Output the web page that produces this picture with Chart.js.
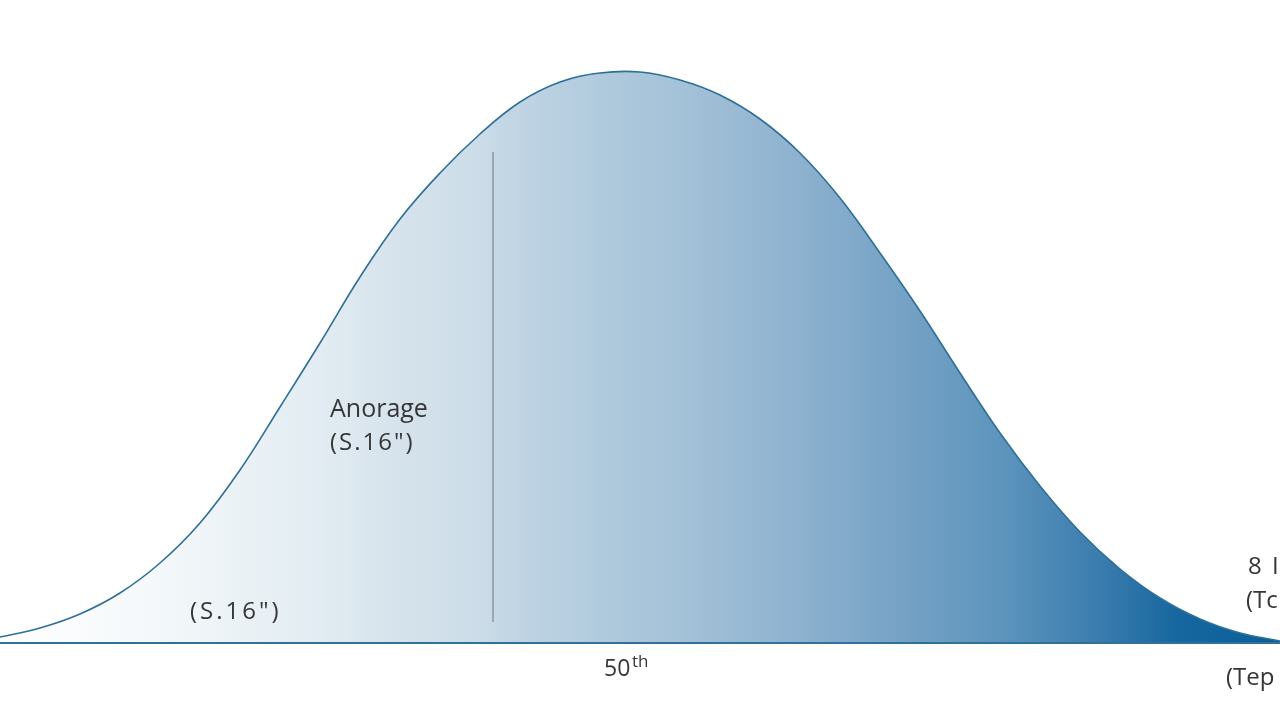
<!DOCTYPE html>
<html>
<head>
<meta charset="utf-8">
<script src="https://cdn.jsdelivr.net/npm/chart.js@4.4.1/dist/chart.umd.min.js"></script>
<style>
  html, body { margin: 0; padding: 0; background: #ffffff; }
  #wrap { width: 1280px; height: 720px; position: relative; }
</style>
</head>
<body>
<div id="wrap"><canvas id="chart"></canvas></div>
<script>
// curve samples (height above baseline)
var curveX = [0, 40, 80, 120, 160, 200, 240, 280, 320, 360, 400, 440, 480, 520, 560, 600, 640,
  680, 720, 760, 800, 840, 880, 920, 960, 1000, 1040, 1080, 1120, 1160, 1200, 1240, 1280];
var curveY = [6, 15, 29, 50, 80, 120, 173, 236, 300, 366, 424, 470, 509, 541, 561, 570, 571,
  563, 548, 524, 490, 445, 390, 332, 270, 210, 157, 111, 74, 45, 24, 10, 2];

// vertical marker (average)
var markerX = 493;
var markerY = [21, 491];

var labels = [
  { text: 'Anorage', x: 330, y: 410, size: 25, spacing: 0 },
  { text: '(S.16")', x: 330, y: 443, size: 24, spacing: 2 },
  { text: '(S.16")', x: 190, y: 612, size: 24, spacing: 3 },
  { text: '8 I', x: 1248, y: 567, size: 24, spacing: 2 },
  { text: '(Tc', x: 1246, y: 601, size: 24, spacing: 0 },
  { text: '(Tep', x: 1226, y: 678, size: 24, spacing: 0 }
];

function points(xs, ys) {
  return xs.map(function (x, i) { return { x: x, y: ys[i] }; });
}

function fillGradient(ctx) {
  var area = ctx.chart.chartArea;
  if (!area) return '#a9c5dc';
  var g = ctx.chart.ctx.createLinearGradient(area.left, 0, area.right, 0);
  g.addColorStop(0.0, '#ffffff');
  g.addColorStop(0.12, '#f4f8fa');
  g.addColorStop(0.25, '#e2ecf2');
  g.addColorStop(0.31, '#d6e3ec');
  g.addColorStop(0.38, '#cbdce8');
  g.addColorStop(0.39, '#c4d7e5');
  g.addColorStop(0.47, '#b0cadd');
  g.addColorStop(0.55, '#a0bfd6');
  g.addColorStop(0.625, '#8db1cf');
  g.addColorStop(0.70, '#77a3c6');
  g.addColorStop(0.78, '#5e95bd');
  g.addColorStop(0.86, '#3a7cae');
  g.addColorStop(0.92, '#16679f');
  g.addColorStop(1.0, '#0a5e98');
  return g;
}

var extras = {
  id: 'extras',
  afterDatasetsDraw: function (chart) {
    var c = chart.ctx;
    var x = chart.scales.x, y = chart.scales.y;
    // baseline
    c.save();
    c.strokeStyle = '#2f7199';
    c.lineWidth = 2;
    c.beginPath();
    c.moveTo(x.left, y.getPixelForValue(0));
    c.lineTo(x.right, y.getPixelForValue(0));
    c.stroke();

    c.fillStyle = '#363636';
    c.textBaseline = 'middle';
    labels.forEach(function (l) {
      c.font = l.size + 'px "Open Sans", sans-serif';
      c.letterSpacing = l.spacing + 'px';
      c.fillText(l.text, l.x, l.y);
    });
    c.letterSpacing = '0px';

    // 50th label with raised suffix
    c.font = '23px "Open Sans", sans-serif';
    c.fillText('50', 604, 669);
    c.font = '17px "Open Sans", sans-serif';
    c.fillText('th', 632, 662);
    c.restore();
  }
};

new Chart(document.getElementById('chart'), {
  type: 'line',
  data: {
    datasets: [{
      data: points(curveX, curveY),
      borderColor: '#2e6f97',
      borderWidth: 1.6,
      backgroundColor: fillGradient,
      fill: 'origin',
      pointRadius: 0,
      tension: 0.4,
      order: 2
    }, {
      data: points([markerX, markerX], markerY),
      borderColor: '#8f9498',
      borderWidth: 1.5,
      pointRadius: 0,
      fill: false,
      order: 1
    }]
  },
  options: {
    responsive: true,
    maintainAspectRatio: false,
    animation: false,
    layout: { padding: { left: 0, right: 0, top: 0, bottom: 77 } },
    plugins: { legend: { display: false }, tooltip: { enabled: false } },
    scales: {
      x: { type: 'linear', min: 0, max: 1280, display: false },
      y: { min: 0, max: 643, display: false }
    }
  },
  plugins: [extras]
});
</script>
</body>
</html>
